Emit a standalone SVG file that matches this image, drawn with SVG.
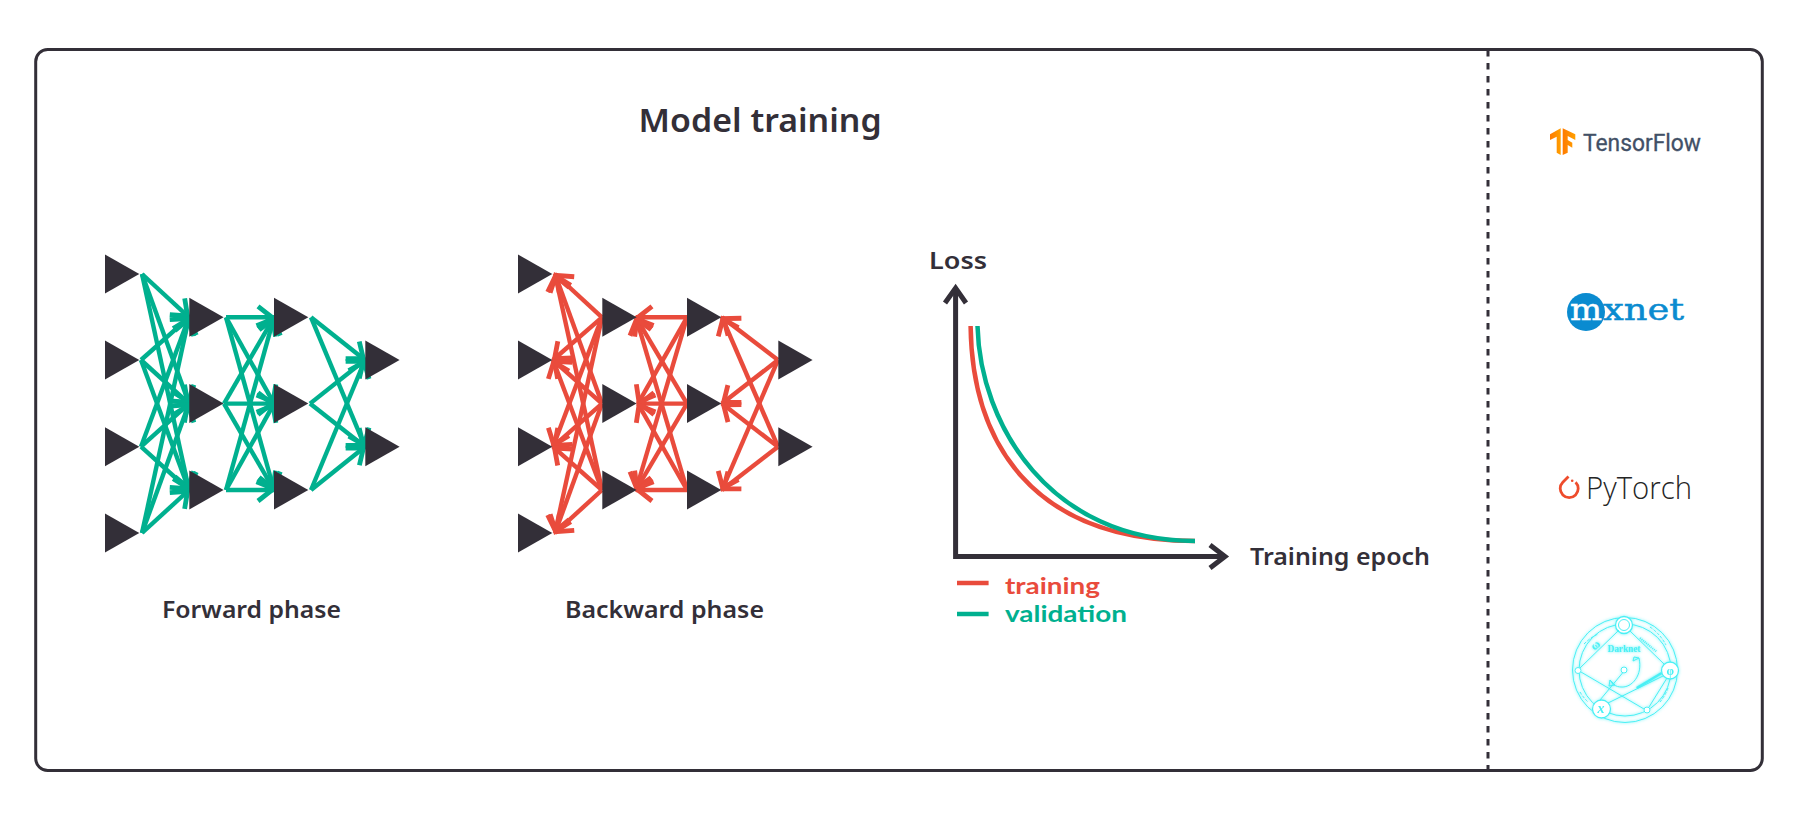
<svg xmlns="http://www.w3.org/2000/svg" width="1801" height="817" viewBox="0 0 1801 817">
<style>
.t{font-family:"Noto Sans","Liberation Sans",sans-serif;font-weight:600;fill:#332f38}
.l{font-family:"Lato","Liberation Sans",sans-serif;font-weight:700}
.tri{fill:#332f38}
.f{stroke:#00b08f;stroke-width:4.4;fill:none;marker-end:url(#mf)}
.b{stroke:#e94b3c;stroke-width:4.4;fill:none;marker-end:url(#mb)}
.ax{stroke:#332f38;stroke-width:5;fill:none}
.d{stroke:#4af0f5;fill:none;stroke-width:1}
</style>
<defs>
<marker id="mf" markerUnits="userSpaceOnUse" markerWidth="48" markerHeight="48" refX="24" refY="24" orient="auto"><path d="M8,13 L22,24 L8,35" fill="none" stroke="#00b08f" stroke-width="4.8"/></marker>
<marker id="mb" markerUnits="userSpaceOnUse" markerWidth="48" markerHeight="48" refX="24" refY="24" orient="auto"><path d="M8,13 L22,24 L8,35" fill="none" stroke="#e94b3c" stroke-width="4.8"/></marker>
<path id="tr" d="M0,-19.5 L34.3,0 L0,19.5 Z"/>
<linearGradient id="tfg" x1="0" x2="1" y1="0" y2="0"><stop offset="0" stop-color="#ff7a00"/><stop offset="1" stop-color="#ffa000"/></linearGradient>
<filter id="glow" x="-20%" y="-20%" width="140%" height="140%"><feGaussianBlur stdDeviation="1.6" result="b"/><feMerge><feMergeNode in="b"/><feMergeNode in="SourceGraphic"/></feMerge></filter>
</defs>
<rect width="1801" height="817" fill="#fff"/>
<g id="frame"><rect x="35.7" y="49.5" width="1726.6" height="721" rx="12" fill="none" stroke="#332f38" stroke-width="3"/>
<line x1="1488" y1="50" x2="1488" y2="770" stroke="#332f38" stroke-width="3" stroke-dasharray="6.5 6.5"/></g>
<text class="t" x="638.6" y="132" font-size="33" textLength="243" lengthAdjust="spacingAndGlyphs">Model training</text>

<g id="forward-connectors">
<path class="f" d="M142,274L189,317.3"/><path class="f" d="M142,274L189,403.6"/><path class="f" d="M142,274L189,490"/>
<path class="f" d="M141,360L189,317.3"/><path class="f" d="M141,360L189,403.6"/><path class="f" d="M141,360L189,490"/>
<path class="f" d="M141,446.7L189,317.3"/><path class="f" d="M141,446.7L189,403.6"/><path class="f" d="M141,446.7L189,490"/>
<path class="f" d="M142,533L189,317.3"/><path class="f" d="M142,533L189,403.6"/><path class="f" d="M142,533L189,490"/>
<path class="f" d="M226,317.3L274,317.3"/><path class="f" d="M226,317.3L274,403.6"/><path class="f" d="M226,317.3L274,490"/>
<path class="f" d="M224,403.6L274,317.3"/><path class="f" d="M224,403.6L274,403.6"/><path class="f" d="M224,403.6L274,490"/>
<path class="f" d="M226,490L274,317.3"/><path class="f" d="M226,490L274,403.6"/><path class="f" d="M226,490L274,490"/>
<path class="f" d="M311,317.3L365,360"/><path class="f" d="M311,317.3L365,446.7"/>
<path class="f" d="M310,403.6L365,360"/><path class="f" d="M310,403.6L365,446.7"/>
<path class="f" d="M311,490L365,360"/><path class="f" d="M311,490L365,446.7"/>
</g>
<g id="backward-connectors">
<path class="b" d="M602,317.3L555,274"/><path class="b" d="M602,317.3L553,360"/><path class="b" d="M602,317.3L553,446.7"/><path class="b" d="M602,317.3L555,533"/>
<path class="b" d="M602,403.6L555,274"/><path class="b" d="M602,403.6L553,360"/><path class="b" d="M602,403.6L553,446.7"/><path class="b" d="M602,403.6L555,533"/>
<path class="b" d="M602,490L555,274"/><path class="b" d="M602,490L553,360"/><path class="b" d="M602,490L553,446.7"/><path class="b" d="M602,490L555,533"/>
<path class="b" d="M687,317.3L636,317.3"/><path class="b" d="M687,317.3L638,403.6"/><path class="b" d="M687,317.3L636,490"/>
<path class="b" d="M687,403.6L636,317.3"/><path class="b" d="M687,403.6L638,403.6"/><path class="b" d="M687,403.6L636,490"/>
<path class="b" d="M687,490L636,317.3"/><path class="b" d="M687,490L638,403.6"/><path class="b" d="M687,490L636,490"/>
<path class="b" d="M778,360L722,317.3"/><path class="b" d="M778,360L722,403.6"/><path class="b" d="M778,360L722,490"/>
<path class="b" d="M778,446.7L722,317.3"/><path class="b" d="M778,446.7L722,403.6"/><path class="b" d="M778,446.7L722,490"/>
</g>

<g class="tri">
<g id="f1a"><use href="#tr" x="105" y="274"/></g><g id="f1b"><use href="#tr" x="105" y="360"/></g><g id="f1c"><use href="#tr" x="105" y="446.7"/></g><g id="f1d"><use href="#tr" x="105" y="533"/></g>
<g id="f2a"><use href="#tr" x="189.3" y="317.3"/></g><g id="f2b"><use href="#tr" x="189.3" y="403.6"/></g><g id="f2c"><use href="#tr" x="189.3" y="490"/></g>
<g id="f3a"><use href="#tr" x="274" y="317.3"/></g><g id="f3b"><use href="#tr" x="274" y="403.6"/></g><g id="f3c"><use href="#tr" x="274" y="490"/></g>
<g id="f4a"><use href="#tr" x="365.3" y="360"/></g><g id="f4b"><use href="#tr" x="365.3" y="446.7"/></g>
<g id="b1a"><use href="#tr" x="518" y="274"/></g><g id="b1b"><use href="#tr" x="518" y="360"/></g><g id="b1c"><use href="#tr" x="518" y="446.7"/></g><g id="b1d"><use href="#tr" x="518" y="533"/></g>
<g id="b2a"><use href="#tr" x="602.3" y="317.3"/></g><g id="b2b"><use href="#tr" x="602.3" y="403.6"/></g><g id="b2c"><use href="#tr" x="602.3" y="490"/></g>
<g id="b3a"><use href="#tr" x="687" y="317.3"/></g><g id="b3b"><use href="#tr" x="687" y="403.6"/></g><g id="b3c"><use href="#tr" x="687" y="490"/></g>
<g id="b4a"><use href="#tr" x="778.3" y="360"/></g><g id="b4b"><use href="#tr" x="778.3" y="446.7"/></g>
</g>
<text class="t" x="162" y="618" font-size="22.5" textLength="179" lengthAdjust="spacingAndGlyphs">Forward phase</text>
<text class="t" x="565" y="618" font-size="22.5" textLength="199" lengthAdjust="spacingAndGlyphs">Backward phase</text>

<g id="chart">
<path class="ax" d="M955.6,290V556.5H1224"/>
<path class="ax" d="M945,303L955.6,288L966,303"/>
<path class="ax" d="M1210,545L1225,556.5L1210,568"/>
<path d="M970.6,326C972,440 1030,541 1195,541" fill="none" stroke="#e94b3c" stroke-width="4.5"/>
<path d="M977.5,326C980,425 1050,541 1195,541" fill="none" stroke="#00b08f" stroke-width="4.5"/>
<path d="M957,583H988.6" stroke="#e94b3c" stroke-width="4.5"/>
<path d="M957,614H988.6" stroke="#00b08f" stroke-width="4.5"/>
<text class="t" x="929" y="269" font-size="23" textLength="58" lengthAdjust="spacingAndGlyphs">Loss</text>
<text class="t" x="1250" y="565" font-size="23" textLength="180" lengthAdjust="spacingAndGlyphs">Training epoch</text>
<text class="l" x="1005" y="594" font-size="23" fill="#e94b3c" textLength="95" lengthAdjust="spacingAndGlyphs">training</text>
<text class="l" x="1005" y="622" font-size="23" fill="#00b08f" textLength="122" lengthAdjust="spacingAndGlyphs">validation</text>
</g>

<g id="tensorflow">
<path fill="url(#tfg)" d="M1550,134.3L1560.7,128.3V155L1556.7,152.7V136.7L1550,140Z"/>
<path fill="url(#tfg)" d="M1562.7,128.3L1575.3,134.3V140L1567.7,136V140L1572.3,142.7V147.7L1567.7,145V152.7L1562.7,155Z"/>
<text x="1583" y="151" font-family="Roboto,'Liberation Sans',sans-serif" font-size="23" fill="#425066" stroke="#425066" stroke-width="0.3" textLength="118" lengthAdjust="spacingAndGlyphs">TensorFlow</text>
</g>
<g id="mxnet">
<circle cx="1586" cy="312" r="19" fill="#0a8bd0"/>
<text x="1570" y="320" font-family="'DejaVu Serif',serif" font-size="30" fill="#fff" stroke="#fff" stroke-width="0.5" textLength="32" lengthAdjust="spacingAndGlyphs">m</text>
<text x="1603" y="320" font-family="'DejaVu Serif',serif" font-size="30" fill="#0a8bd0" stroke="#0a8bd0" stroke-width="0.5" textLength="81" lengthAdjust="spacingAndGlyphs">xnet</text>
</g>
<g id="pytorch">
<path d="M1568.5,476.5L1562.8,482.2A9,9 0 1 0 1575.6,482.2" fill="none" stroke="#ee4c2c" stroke-width="2.8"/>
<circle cx="1572.2" cy="480.8" r="1.3" fill="#ee4c2c"/>
<text x="1586" y="499" font-family="'Open Sans',sans-serif" font-weight="300" font-size="31" fill="#252525" textLength="106" lengthAdjust="spacingAndGlyphs">PyTorch</text>
</g>
<g id="darknet" filter="url(#glow)">
<circle class="d" cx="1625" cy="670" r="52.5"/><circle class="d" cx="1625" cy="670" r="46"/>
<circle cx="1624" cy="625" r="8.5" fill="#fff" stroke="#4af0f5" stroke-width="1.3"/><circle class="d" cx="1624" cy="625" r="5.5" stroke-width="1.3"/>
<circle cx="1670" cy="670.5" r="8.5" fill="#fff" stroke="#4af0f5" stroke-width="1.3"/>
<circle cx="1578" cy="670.5" r="3" fill="#fff" stroke="#4af0f5"/>
<circle cx="1601.5" cy="709" r="9" fill="#fff" stroke="#4af0f5" stroke-width="1.3"/>
<circle cx="1647" cy="710" r="3" fill="#fff" stroke="#4af0f5"/>
<circle cx="1624" cy="670" r="3" fill="#fff" stroke="#4af0f5"/>
<path class="d" d="M1619,630L1580,668M1630,631L1664,664M1581,672L1644,709M1649,707L1667,678M1608,703L1663,676M1600,700L1622.5,673"/>
<path d="M1636.7,688L1661.7,673" stroke="#4af0f5" stroke-width="2.2"/>
<path d="M1640,638L1657,652" stroke="#4af0f5" stroke-width="2" stroke-dasharray="1 1"/>
<path class="d" d="M1639,658C1643,675 1632,688 1621,687C1616,687 1612,684 1610,680M1639,658L1634,657L1633,661ZM1610,680L1609,686L1615,685Z"/>
<path class="d" stroke-width="2" stroke-dasharray="3 1.5" d="M1584,644A49 49 0 0 1 1598,634M1650,627A49 49 0 0 1 1666,645M1580,692A49 49 0 0 0 1588,702M1668,688A49 49 0 0 1 1660,702"/>
<text x="1607.7" y="652" font-family="'Liberation Serif',serif" font-weight="700" font-size="10.5" fill="#4af0f5" textLength="33" lengthAdjust="spacingAndGlyphs">Darknet</text>
<text x="1591" y="649" font-family="'Liberation Serif',serif" font-weight="700" font-size="12" fill="#4af0f5" transform="rotate(-40 1595 645)">ω</text>
<text x="1666.5" y="675" font-family="'Liberation Serif',serif" font-weight="700" font-size="12" fill="#4af0f5">φ</text>
<text x="1597.5" y="713" font-family="'Liberation Serif',serif" font-weight="700" font-size="14" font-style="italic" fill="#4af0f5">x</text>
</g>
</svg>
